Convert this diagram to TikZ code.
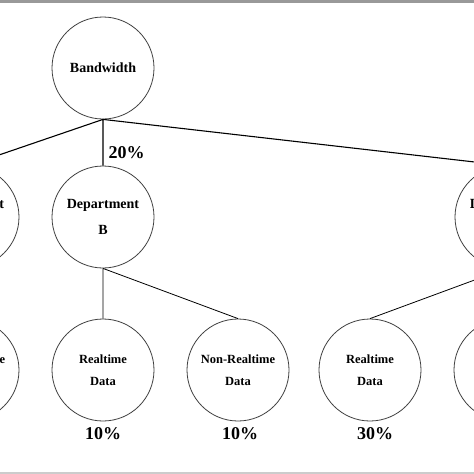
\documentclass[tikz,border=0pt]{standalone}
\usepackage{fontspec}
\setmainfont{Liberation Serif}
\usetikzlibrary{positioning}

\begin{document}
\begin{tikzpicture}[x=1pt, y=-1pt,
    unit/.style={circle, draw=black!75, line width=0.8pt, minimum size=102pt, inner sep=0pt,
        align=center, font=\fontsize{14}{22}\selectfont\bfseries},
    leaf/.style={unit, font=\fontsize{12.5}{22}\selectfont\bfseries},
    share/.style={font=\fontsize{18}{20}\selectfont\bfseries},
    link/.style={line width=1.1pt}]
        \clip (0,0) rectangle (474,474);
        \fill[white] (0,0) rectangle (474,474);
        \fill[black!40] (0,0) rectangle (474,2.5);
        \fill[black!20] (0,471.5) rectangle (474,474);

        \node[unit] (bw) at (103, 68) {Bandwidth};

        \node[unit] (depa) at (-32, 217) {Department\\[4pt] A};
        \node[unit] (depb) at (103, 217) {Department\\[4pt] B};
        \node[unit] (depc) at (506, 217) {Department\\[4pt] C};

        \node[leaf] (anon) at (-32, 370) {Non-Realtime\\ Data};
        \node[leaf] (brt) at (103, 370) {Realtime\\ Data};
        \node[leaf] (bnon) at (238, 370) {Non-Realtime\\ Data};
        \node[leaf] (crt) at (370, 370) {Realtime\\ Data};
        \node[leaf] (cnon) at (505, 370) {};

        \draw[link] (bw.south) to (depa.north)
            (bw.south) to (depb.north)
            (bw.south) to (depc.north);
        \draw[line width=0.8pt] (depa.south) to (anon.north)
            (depb.south) to (brt.north)
            (depb.south) to (bnon.north)
            (depc.south) to (crt.north)
            (depc.south) to (cnon.north);

        \node[share, anchor=west] (pb) at (105, 153) {20\%};
        \node[share] (pbrt) at (103, 434) {10\%};
        \node[share] (pbnon) at (240, 434) {10\%};
        \node[share] (pcrt) at (375, 434) {30\%};
    \end{tikzpicture}
\end{document}
